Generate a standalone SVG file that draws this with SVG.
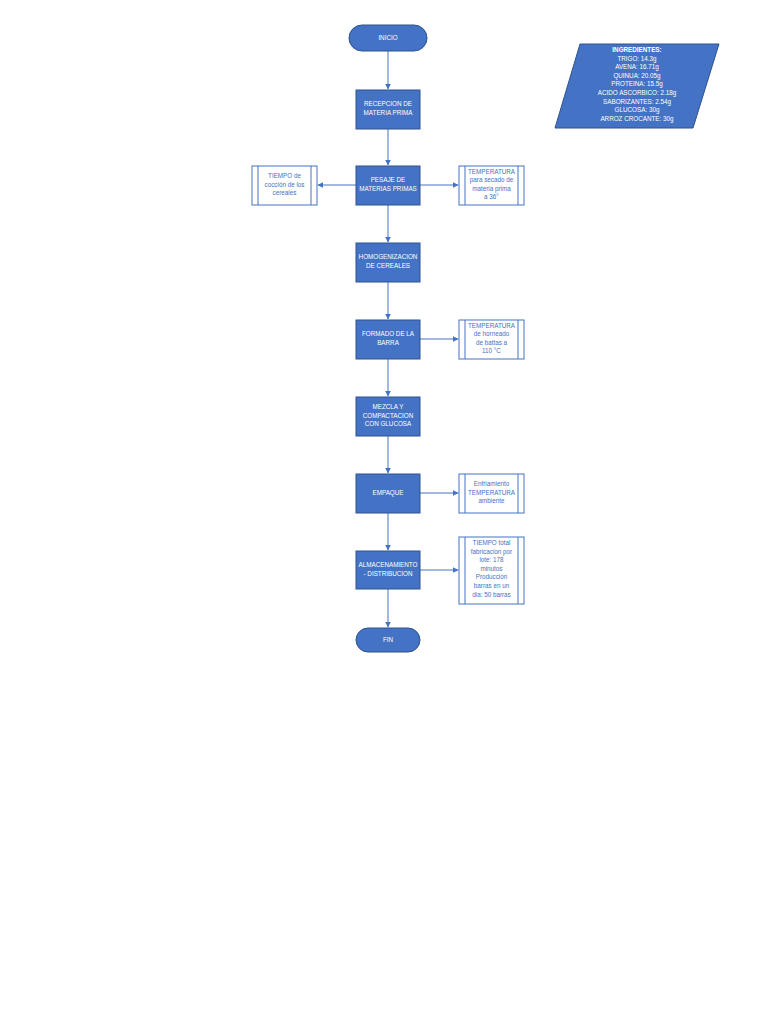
<svg xmlns="http://www.w3.org/2000/svg" width="768" height="1024" viewBox="0 0 768 1024">
<defs>
<style>
.p{fill:#4472C4;stroke:#2F528F;stroke-width:1}
.s{fill:#fff;stroke:#4472C4;stroke-width:1}
.c{stroke:#4472C4;stroke-width:1;fill:none}
.w{fill:#fff;font-family:"Liberation Sans",Arial,sans-serif;font-size:6.3px;text-anchor:middle}
.b{fill:#4472C4;font-family:"Liberation Sans",Arial,sans-serif;font-size:6.3px;text-anchor:middle}
</style>
<marker id="a" viewBox="0 0 10 10" refX="9" refY="5" markerWidth="6" markerHeight="6" orient="auto" markerUnits="userSpaceOnUse">
<path d="M0,0 L10,5 L0,10 z" fill="#4472C4"/>
</marker>
</defs>
<rect width="768" height="1024" fill="#fff"/>
<g id="connectors">
<line class="c" x1="388" y1="51" x2="388" y2="89" marker-end="url(#a)"/>
<line class="c" x1="388" y1="129" x2="388" y2="165" marker-end="url(#a)"/>
<line class="c" x1="388" y1="205" x2="388" y2="242" marker-end="url(#a)"/>
<line class="c" x1="388" y1="282" x2="388" y2="319" marker-end="url(#a)"/>
<line class="c" x1="388" y1="359" x2="388" y2="396" marker-end="url(#a)"/>
<line class="c" x1="388" y1="436" x2="388" y2="473" marker-end="url(#a)"/>
<line class="c" x1="388" y1="513" x2="388" y2="550" marker-end="url(#a)"/>
<line class="c" x1="388" y1="589" x2="388" y2="627" marker-end="url(#a)"/>
<line class="c" x1="356" y1="185" x2="318" y2="185" marker-end="url(#a)"/>
<line class="c" x1="420" y1="185" x2="458" y2="185" marker-end="url(#a)"/>
<line class="c" x1="420" y1="339" x2="458" y2="339" marker-end="url(#a)"/>
<line class="c" x1="420" y1="493" x2="458" y2="493" marker-end="url(#a)"/>
<line class="c" x1="420" y1="570" x2="458" y2="570" marker-end="url(#a)"/>
</g>
<g id="inicio">
<rect class="p" x="349" y="25" width="78" height="26" rx="13"/>
<text class="w" x="388" y="40">INICIO</text>
</g>
<g id="ingredientes">
<polygon class="p" points="580,44 719,44 693,128 555,128"/>
<text class="w" x="637" y="52"><tspan font-weight="bold">INGREDIENTES:</tspan><tspan x="637" dy="8.6">TRIGO: 14.3g</tspan><tspan x="637" dy="8.6">AVENA: 16.71g</tspan><tspan x="637" dy="8.6">QUINUA: 20.05g</tspan><tspan x="637" dy="8.6">PROTEINA: 15.5g</tspan><tspan x="637" dy="8.6">ACIDO ASCORBICO: 2.18g</tspan><tspan x="637" dy="8.6">SABORIZANTES: 2.54g</tspan><tspan x="637" dy="8.6">GLUCOSA: 30g</tspan><tspan x="637" dy="8.6">ARROZ CROCANTE: 30g</tspan></text>
</g>
<g id="recepcion">
<rect class="p" x="356" y="90" width="64" height="39"/>
<text class="w" x="388" y="106">RECEPCION DE<tspan x="388" dy="8.6">MATERIA PRIMA</tspan></text>
</g>
<g id="pesaje">
<rect class="p" x="356" y="166" width="64" height="39"/>
<text class="w" x="388" y="182">PESAJE DE<tspan x="388" dy="8.6">MATERIAS PRIMAS</tspan></text>
</g>
<g id="tiempo-coccion">
<rect class="s" x="252" y="166" width="65" height="39"/>
<line class="c" x1="258" y1="166" x2="258" y2="205"/>
<line class="c" x1="311" y1="166" x2="311" y2="205"/>
<text class="b" x="284.5" y="178">TIEMPO de<tspan x="284.5" dy="8.6">cocción de los</tspan><tspan x="284.5" dy="8.6">cereales</tspan></text>
</g>
<g id="temp-secado">
<rect class="s" x="459" y="166" width="65" height="39"/>
<line class="c" x1="465" y1="166" x2="465" y2="205"/>
<line class="c" x1="518" y1="166" x2="518" y2="205"/>
<text class="b" x="491.5" y="173.5">TEMPERATURA<tspan x="491.5" dy="8.6">para secado de</tspan><tspan x="491.5" dy="8.6">materia prima</tspan><tspan x="491.5" dy="8.6">a 36°</tspan></text>
</g>
<g id="homogenizacion">
<rect class="p" x="356" y="243" width="64" height="39"/>
<text class="w" x="388" y="259">HOMOGENIZACION<tspan x="388" dy="8.6">DE CEREALES</tspan></text>
</g>
<g id="formado">
<rect class="p" x="356" y="320" width="64" height="39"/>
<text class="w" x="388" y="336">FORMADO DE LA<tspan x="388" dy="8.6">BARRA</tspan></text>
</g>
<g id="temp-horneado">
<rect class="s" x="459" y="320" width="65" height="39"/>
<line class="c" x1="465" y1="320" x2="465" y2="359"/>
<line class="c" x1="518" y1="320" x2="518" y2="359"/>
<text class="b" x="491.5" y="327.5">TEMPERATURA<tspan x="491.5" dy="8.6">de horneado</tspan><tspan x="491.5" dy="8.6">de battas a</tspan><tspan x="491.5" dy="8.6">110 °C</tspan></text>
</g>
<g id="mezcla">
<rect class="p" x="356" y="397" width="64" height="39"/>
<text class="w" x="388" y="409">MEZCLA Y<tspan x="388" dy="8.6">COMPACTACION</tspan><tspan x="388" dy="8.6">CON GLUCOSA</tspan></text>
</g>
<g id="empaque">
<rect class="p" x="356" y="474" width="64" height="39"/>
<text class="w" x="388" y="495">EMPAQUE</text>
</g>
<g id="enfriamiento">
<rect class="s" x="459" y="474" width="65" height="39"/>
<line class="c" x1="465" y1="474" x2="465" y2="513"/>
<line class="c" x1="518" y1="474" x2="518" y2="513"/>
<text class="b" x="491.5" y="486">Enfriamiento<tspan x="491.5" dy="8.6">TEMPERATURA</tspan><tspan x="491.5" dy="8.6">ambiente</tspan></text>
</g>
<g id="almacenamiento">
<rect class="p" x="356" y="551" width="64" height="38"/>
<text class="w" x="388" y="567">ALMACENAMIENTO<tspan x="388" dy="8.6">- DISTRIBUCION</tspan></text>
</g>
<g id="tiempo-total">
<rect class="s" x="459" y="537" width="65" height="67"/>
<line class="c" x1="465" y1="537" x2="465" y2="604"/>
<line class="c" x1="518" y1="537" x2="518" y2="604"/>
<text class="b" x="491.5" y="545">TIEMPO total<tspan x="491.5" dy="8.6">fabricacion por</tspan><tspan x="491.5" dy="8.6">lote: 178</tspan><tspan x="491.5" dy="8.6">minutos</tspan><tspan x="491.5" dy="8.6">Produccion</tspan><tspan x="491.5" dy="8.6">barras en un</tspan><tspan x="491.5" dy="8.6">dia: 50 barras</tspan></text>
</g>
<g id="fin">
<rect class="p" x="356" y="628" width="64" height="24" rx="12"/>
<text class="w" x="388" y="642">FIN</text>
</g>
</svg>
